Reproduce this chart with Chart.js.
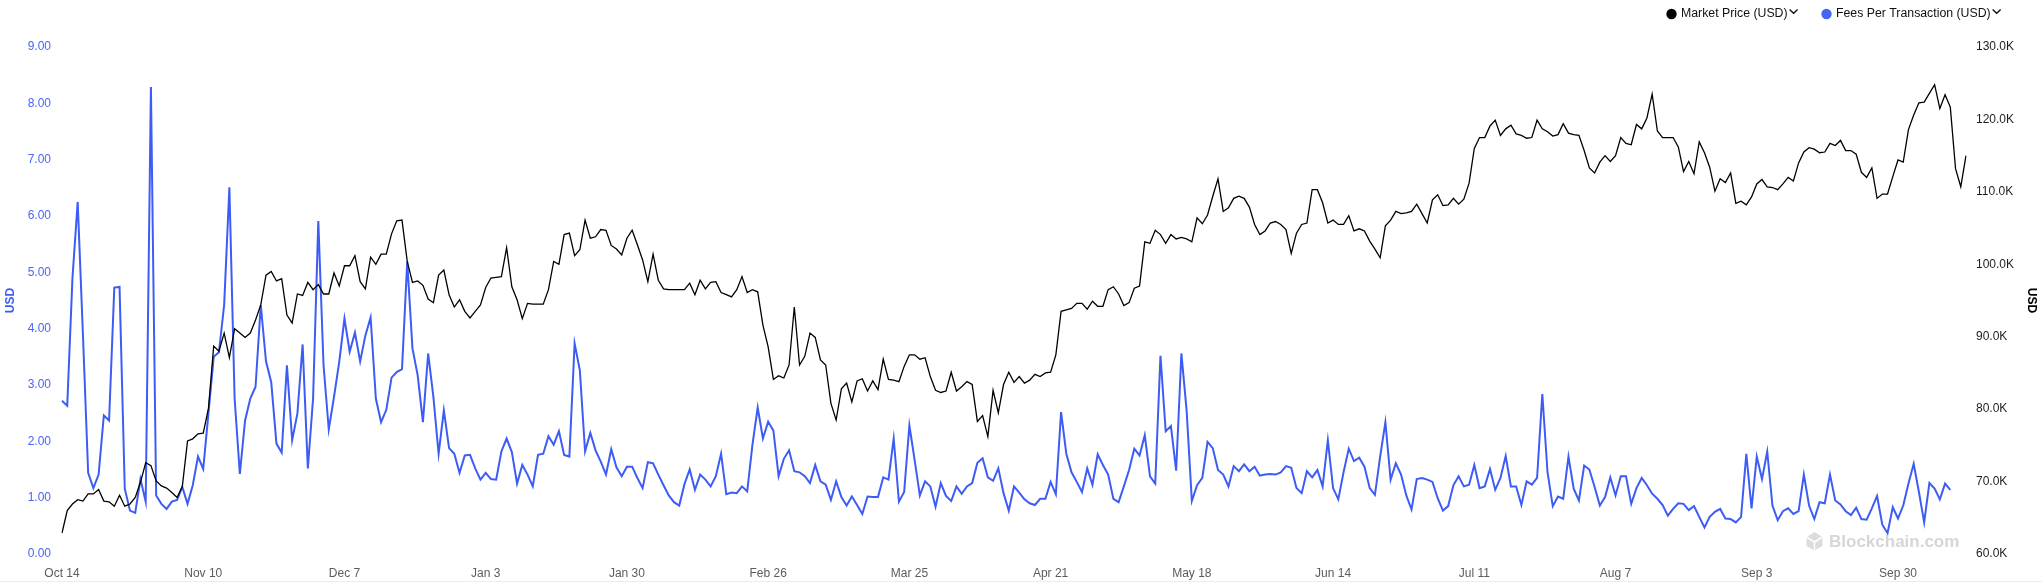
<!DOCTYPE html>
<html>
<head>
<meta charset="utf-8">
<script src="https://cdn.jsdelivr.net/npm/chart.js@4.4.1/dist/chart.umd.min.js"></script>
<style>
  html, body { margin: 0; padding: 0; background: #ffffff; }
  #wrap { position: relative; width: 2042px; height: 585px; }
  canvas { display: block; }
</style>
</head>
<body>
<div id="wrap"><canvas id="c" width="2042" height="585"></canvas></div>
<script>
// ---- DATA ----
const startDate = '2024-10-14';
const xTickLabels = ['Oct 14','Nov 10','Dec 7','Jan 3','Jan 30','Feb 26','Mar 25','Apr 21','May 18','Jun 14','Jul 11','Aug 7','Sep 3','Sep 30'];
const feeTicks = [0,1,2,3,4,5,6,7,8,9];
const priceTicksK = [60,70,80,90,100,110,120,130];

// Market Price (USD), in thousands
const marketPriceK = [
62.9,66.0,66.9,67.5,67.3,68.3,68.3,68.9,67.3,67.2,
66.6,68.1,66.6,66.9,67.8,69.9,72.6,72.2,70.1,69.4,
69.1,68.5,67.8,69.3,75.6,75.9,76.6,76.7,80.1,88.7,
88.0,90.5,87.1,91.1,90.5,89.9,90.5,92.3,94.4,98.5,
99.0,97.7,98.0,93.0,91.9,95.9,95.7,97.5,96.5,97.2,
95.9,95.9,98.8,97.0,99.8,99.8,101.2,97.6,96.6,101.0,
100.0,101.4,101.4,104.2,106.0,106.1,100.4,97.5,97.7,97.1,
95.2,94.7,98.5,99.2,95.8,94.1,95.1,93.5,92.6,93.5,
94.4,96.8,98.1,98.2,98.3,102.3,96.9,95.1,92.5,94.6,
94.5,94.5,94.5,96.5,100.4,100.0,104.1,104.3,101.2,102.0,
106.1,103.6,103.8,104.8,104.7,102.6,102.1,101.3,103.6,104.7,
102.7,100.6,97.6,101.4,97.8,96.6,96.5,96.5,96.5,96.5,
97.4,95.8,97.8,96.6,97.5,97.6,96.1,95.8,95.5,96.5,
98.3,96.1,96.5,96.2,91.6,88.6,84.1,84.6,84.3,86.1,
94.1,86.1,87.3,90.5,89.9,86.8,86.1,80.8,78.5,82.8,
83.6,81.0,83.9,84.2,82.5,83.9,82.7,86.9,84.1,84.0,
83.8,85.9,87.5,87.5,86.9,87.1,84.5,82.6,82.3,82.5,
85.1,82.5,83.1,83.8,83.4,78.3,79.1,76.2,82.6,79.5,
83.4,85.1,83.7,84.5,83.6,84.0,84.8,84.5,85.0,85.1,
87.5,93.5,93.7,93.9,94.6,94.6,93.8,94.9,94.2,94.2,
96.5,96.9,95.9,94.3,94.7,96.7,97.0,103.1,102.9,104.7,
104.1,102.9,104.1,103.5,103.7,103.5,103.1,106.4,105.6,106.8,
109.4,111.8,107.3,107.8,109.1,109.4,109.1,107.9,105.5,104.1,
104.6,105.7,105.9,105.5,104.8,101.5,104.3,105.5,105.7,110.3,
110.3,108.5,105.7,106.1,105.5,105.5,106.7,104.6,104.9,104.6,
103.2,102.1,100.9,105.3,106.1,107.3,107.0,107.1,107.3,108.3,
107.0,105.7,108.9,109.6,108.1,108.2,109.1,108.3,109.0,111.2,
116.0,117.5,117.5,119.1,119.9,117.8,118.7,119.2,118.0,117.8,
117.4,117.5,119.9,118.7,118.3,117.7,117.9,119.4,118.1,117.9,
117.8,115.7,113.3,112.6,114.1,115.0,114.2,115.0,117.5,116.7,
116.5,119.3,118.7,120.2,123.5,118.4,117.5,117.5,117.5,116.2,
112.8,114.2,112.5,116.9,115.4,113.4,110.1,111.8,111.3,112.6,
108.4,108.7,108.2,109.3,111.1,111.7,110.7,110.6,110.3,111.1,
112.0,111.5,114.0,115.5,116.1,115.9,115.4,115.5,116.7,116.4,
117.1,115.7,115.7,115.2,112.7,112.0,113.3,109.1,109.7,109.7,
112.1,114.4,114.1,118.6,120.6,122.3,122.4,123.6,124.8,121.5,
123.4,121.7,113.2,110.7,115.0
];

// Fees Per Transaction (USD)
const feesPerTx = [
2.72,2.63,4.90,6.25,3.90,1.44,1.17,1.41,2.46,2.37,
4.73,4.74,1.16,0.77,0.73,1.33,0.93,8.29,1.04,0.89,
0.80,0.93,0.96,1.19,0.89,1.22,1.73,1.51,2.50,3.50,
3.58,4.42,6.51,2.76,1.42,2.37,2.76,2.97,4.42,3.42,
3.05,1.96,1.80,3.35,2.02,2.49,3.72,1.52,2.76,5.91,
3.35,2.21,2.79,3.41,4.18,3.59,3.93,3.42,3.88,4.20,
2.76,2.34,2.56,3.13,3.23,3.28,5.19,3.65,3.17,2.34,
3.56,2.79,1.78,2.55,1.88,1.78,1.44,1.75,1.76,1.52,
1.32,1.44,1.33,1.32,1.82,2.05,1.81,1.25,1.58,1.41,
1.20,1.76,1.78,2.09,1.94,2.18,1.76,1.73,3.74,3.26,
1.82,2.15,1.84,1.64,1.41,1.86,1.54,1.38,1.55,1.55,
1.35,1.17,1.63,1.61,1.41,1.22,1.04,0.92,0.86,1.24,
1.50,1.14,1.41,1.32,1.20,1.38,1.78,1.06,1.09,1.08,
1.20,1.11,1.94,2.60,2.05,2.35,2.19,1.38,1.69,1.84,
1.47,1.45,1.38,1.26,1.58,1.29,1.23,0.96,1.29,1.01,
0.86,1.02,0.87,0.71,1.02,1.01,1.01,1.36,1.32,2.05,
0.93,1.10,2.28,1.67,1.04,1.29,1.20,0.84,1.26,1.03,
0.94,1.20,1.07,1.20,1.26,1.62,1.70,1.36,1.30,1.52,
1.08,0.77,1.20,1.09,0.97,0.90,0.87,0.98,0.98,1.28,
1.06,2.52,1.78,1.45,1.28,1.10,1.52,1.23,1.77,1.58,
1.41,0.98,0.92,1.20,1.49,1.87,1.75,2.11,1.38,1.25,
3.52,2.18,2.27,1.48,3.56,2.55,0.94,1.22,1.35,1.99,
1.88,1.49,1.41,1.20,1.56,1.47,1.59,1.47,1.55,1.39,
1.41,1.42,1.41,1.45,1.56,1.53,1.17,1.08,1.47,1.36,
1.49,1.20,2.02,1.17,0.97,1.45,1.87,1.65,1.71,1.55,
1.17,1.05,1.73,2.34,1.32,1.61,1.41,1.04,0.79,1.33,
1.35,1.32,1.28,0.99,0.77,0.85,1.22,1.38,1.20,1.23,
1.58,1.17,1.20,1.51,1.14,1.35,1.74,1.20,1.20,0.87,
1.29,1.23,1.35,2.84,1.45,0.85,1.02,0.98,1.73,1.16,
0.95,1.57,1.50,1.19,0.86,1.01,1.36,1.04,1.38,1.38,
0.89,1.17,1.35,1.22,1.07,0.98,0.87,0.68,0.80,0.90,
0.89,0.78,0.85,0.66,0.47,0.66,0.75,0.80,0.63,0.62,
0.56,0.66,1.78,0.81,1.73,1.33,1.82,0.86,0.60,0.76,
0.81,0.71,0.76,1.41,0.86,0.62,0.92,0.90,1.41,0.95,
0.88,0.76,0.69,0.82,0.62,0.61,0.81,1.03,0.52,0.37,
0.83,0.63,0.86,1.25,1.60,1.10,0.56,1.26,1.16,0.97,
1.25,1.14,null,null,null
];

// ---- categories (one per day) ----
const MONTHS = ['Jan','Feb','Mar','Apr','May','Jun','Jul','Aug','Sep','Oct','Nov','Dec'];
const categories = [];
{
  const d0 = new Date(startDate + 'T00:00:00Z');
  for (let i = 0; i < marketPriceK.length; i++) {
    const d = new Date(d0.getTime() + i * 86400000);
    categories.push(MONTHS[d.getUTCMonth()] + ' ' + d.getUTCDate());
  }
}

// ---- style ----
const BLUE = '#3d5cf5';
const BLUE_TICK = '#4a64f6';
const FONT = '"Liberation Sans", Arial, Helvetica, sans-serif';

const legendPlugin = {
  id: 'customLegend',
  afterDraw(chart) {
    const ctx = chart.ctx;
    ctx.save();
    const items = [
      { label: 'Market Price (USD)', color: '#000000', dotX: 1671.5 },
      { label: 'Fees Per Transaction (USD)', color: '#4466f6', dotX: 1826.5 }
    ];
    const y = 14;
    ctx.font = '12.3px ' + FONT;
    ctx.textBaseline = 'middle';
    ctx.textAlign = 'left';
    items.forEach(it => {
      ctx.fillStyle = it.color;
      ctx.beginPath();
      ctx.arc(it.dotX, y, 5.2, 0, Math.PI * 2);
      ctx.fill();
      ctx.fillStyle = '#111111';
      const tx = it.dotX + 9.5;
      ctx.fillText(it.label, tx, y);
      const w = ctx.measureText(it.label).width;
      const cx = tx + w + 2;
      ctx.strokeStyle = '#111111';
      ctx.lineWidth = 1.4;
      ctx.beginPath();
      ctx.moveTo(cx, y - 4.5);
      ctx.lineTo(cx + 4, y - 0.8);
      ctx.lineTo(cx + 8, y - 4.5);
      ctx.stroke();
    });
    ctx.restore();
  }
};

const watermarkPlugin = {
  id: 'watermark',
  beforeDatasetsDraw(chart) {
    const ctx = chart.ctx;
    ctx.save();
    ctx.fillStyle = '#dcdcdc';
    const lx = 1814.5, ly = 541;
    ctx.beginPath();
    ctx.moveTo(lx, ly - 9);
    ctx.lineTo(lx + 8, ly - 4);
    ctx.lineTo(lx + 8, ly + 5);
    ctx.lineTo(lx, ly + 9.5);
    ctx.lineTo(lx - 8, ly + 5);
    ctx.lineTo(lx - 8, ly - 4);
    ctx.closePath();
    ctx.fill();
    ctx.strokeStyle = '#ffffff';
    ctx.lineWidth = 1.5;
    ctx.beginPath();
    ctx.moveTo(lx - 8, ly - 4);
    ctx.lineTo(lx, ly + 1);
    ctx.lineTo(lx + 8, ly - 4);
    ctx.moveTo(lx, ly + 1);
    ctx.lineTo(lx, ly + 9.5);
    ctx.stroke();
    ctx.fillStyle = '#d6d6d6';
    ctx.font = 'bold 17px ' + FONT;
    ctx.textBaseline = 'middle';
    ctx.textAlign = 'left';
    ctx.fillText('Blockchain.com', 1829, 542);
    ctx.restore();
  },
  afterDraw(chart) {
    const ctx = chart.ctx;
    ctx.save();
    ctx.strokeStyle = '#ececec';
    ctx.lineWidth = 1;
    ctx.beginPath();
    ctx.moveTo(0, 581.5);
    ctx.lineTo(2042, 581.5);
    ctx.stroke();
    ctx.restore();
  }
};

new Chart(document.getElementById('c'), {
  type: 'line',
  data: {
    labels: categories,
    datasets: [
      {
        label: 'Market Price (USD)',
        data: marketPriceK,
        yAxisID: 'yPrice',
        borderColor: '#000000',
        borderWidth: 1.3,
        pointRadius: 0,
        tension: 0,
        fill: false
      },
      {
        label: 'Fees Per Transaction (USD)',
        data: feesPerTx,
        yAxisID: 'yFees',
        borderColor: BLUE,
        borderWidth: 2,
        pointRadius: 0,
        tension: 0,
        fill: false,
        spanGaps: false
      }
    ]
  },
  options: {
    responsive: false,
    devicePixelRatio: 1,
    animation: false,
    layout: { padding: { left: 0, right: 0, top: 47, bottom: 0 } },
    plugins: {
      legend: { display: false },
      tooltip: { enabled: false }
    },
    scales: {
      x: {
        type: 'category',
        offset: false,
        grid: { display: false, drawTicks: false },
        border: { display: false },
        ticks: {
          autoSkip: false,
          maxRotation: 0,
          minRotation: 0,
          padding: 12,
          color: '#5c5c5c',
          font: { family: FONT, size: 12 },
          callback: function (value, index) {
            return index % 27 === 0 ? xTickLabels[index / 27] : null;
          }
        },
        afterFit(scale) { scale.height = 31; }
      },
      yFees: {
        type: 'linear',
        position: 'left',
        min: feeTicks[0],
        max: feeTicks[feeTicks.length - 1],
        grid: { display: false, drawTicks: false },
        border: { display: false },
        afterBuildTicks(scale) { scale.ticks = feeTicks.map(v => ({ value: v })); },
        ticks: {
          padding: 11,
          color: BLUE_TICK,
          font: { family: FONT, size: 12 },
          callback: v => Number(v).toFixed(2)
        },
        title: {
          display: true,
          text: 'USD',
          color: BLUE,
          font: { family: FONT, size: 12, weight: 'bold' },
          padding: { top: 3, bottom: 0 }
        },
        afterFit(scale) { scale.width = 62; }
      },
      yPrice: {
        type: 'linear',
        position: 'right',
        min: priceTicksK[0],
        max: priceTicksK[priceTicksK.length - 1],
        grid: { display: false, drawTicks: false },
        border: { display: false },
        afterBuildTicks(scale) { scale.ticks = priceTicksK.map(v => ({ value: v })); },
        ticks: {
          padding: 10,
          color: '#1e1e1e',
          font: { family: FONT, size: 12 },
          callback: v => Number(v).toFixed(1) + 'K'
        },
        title: {
          display: true,
          text: 'USD',
          color: '#000000',
          font: { family: FONT, size: 12, weight: 'bold' },
          padding: { top: 3, bottom: 0 }
        },
        afterFit(scale) { scale.width = 76; }
      }
    }
  },
  plugins: [legendPlugin, watermarkPlugin]
});
</script>
</body>
</html>
